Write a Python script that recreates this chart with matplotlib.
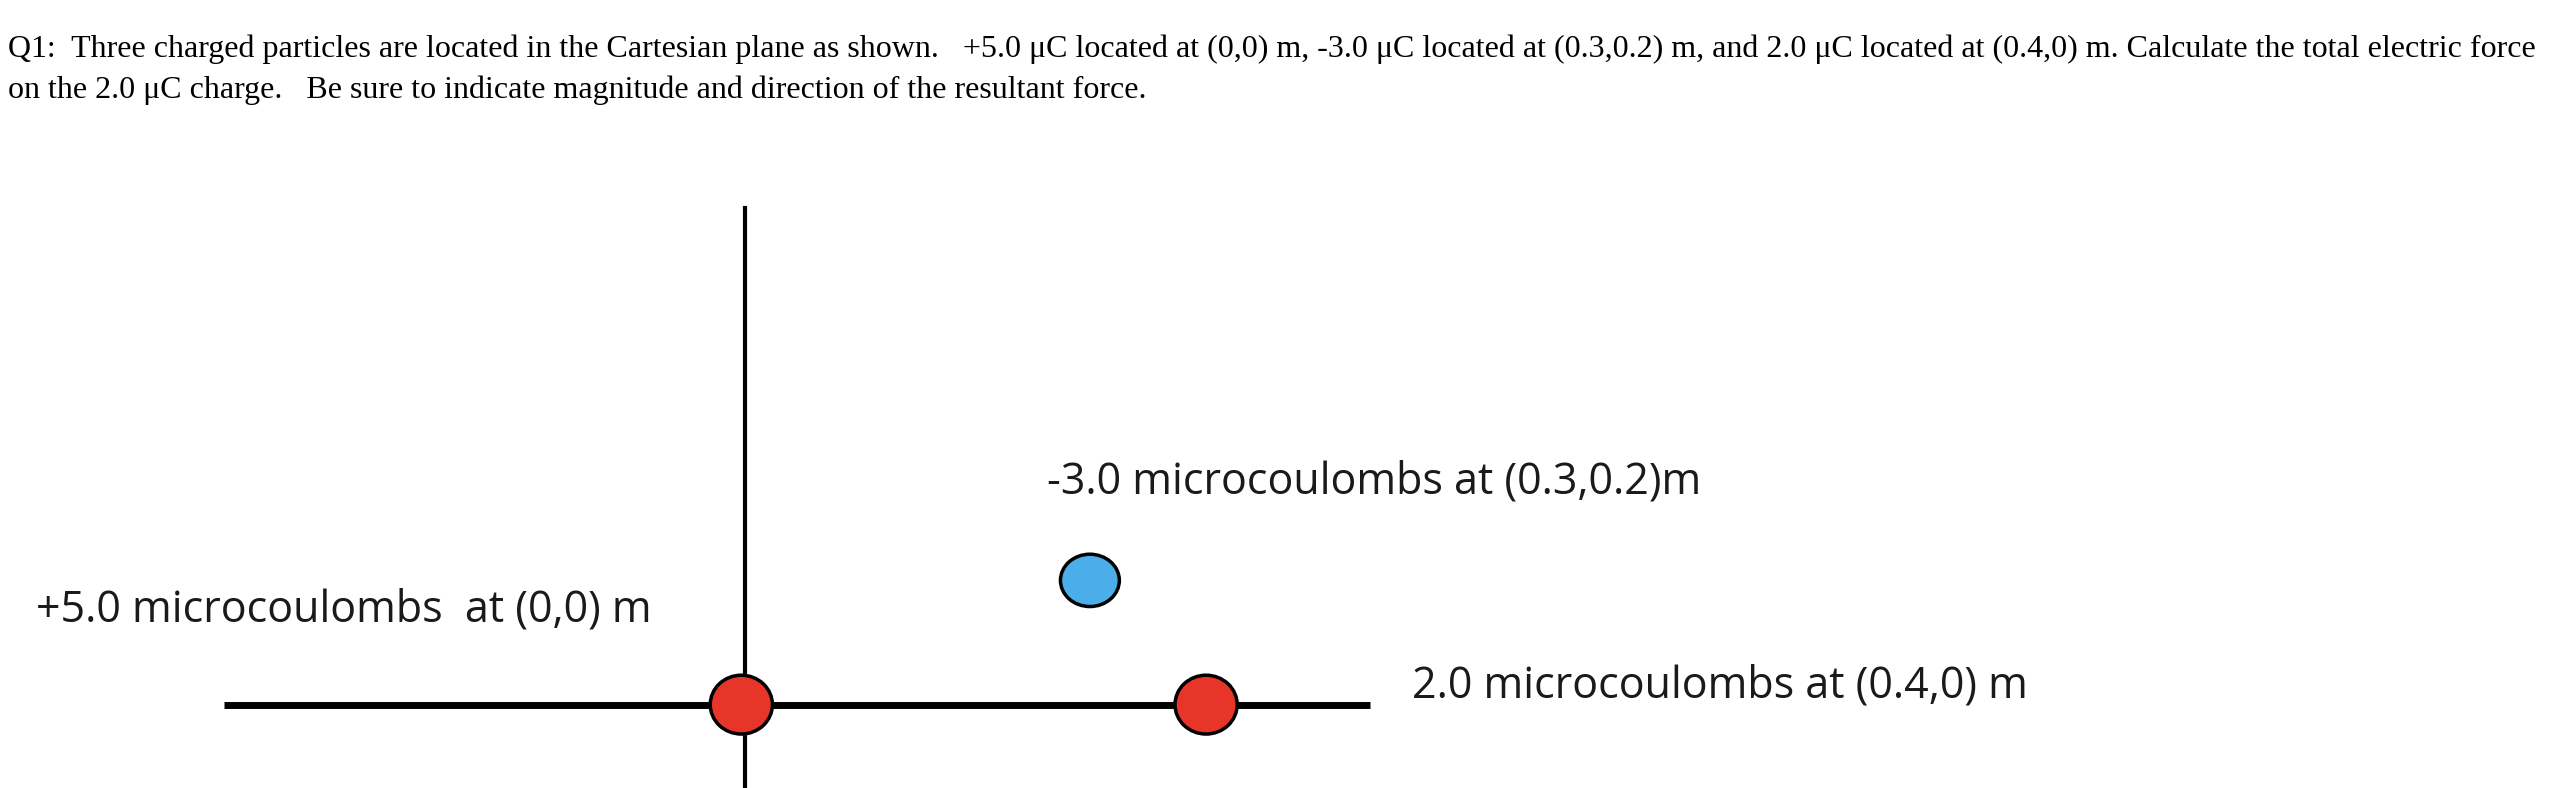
import matplotlib
matplotlib.use("Agg")
import matplotlib.pyplot as plt
from matplotlib.patches import Ellipse

W, H = 1568.0, 482.0  # layout reference frame
charges_uC = [5.0, -3.0, 2.0]
pos_x = [0.0, 0.3, 0.4]
pos_y = [0.0, 0.2, 0.0]
colors = ["#E8352A", "#4BAEEA", "#E8352A"]
labels = ["+5.0 microcoulombs  at (0,0) m", "-3.0 microcoulombs at (0.3,0.2)m", "2.0 microcoulombs at (0.4,0) m"]
label_px = [(22, 373), (640, 295), (863, 420)]
title1 = "Q1:  Three charged particles are located in the Cartesian plane as shown.   +5.0 \u03bcC located at (0,0) m, -3.0 \u03bcC located at (0.3,0.2) m, and 2.0 \u03bcC located at (0.4,0) m. Calculate the total electric force"
title2 = "on the 2.0 \u03bcC charge.   Be sure to indicate magnitude and direction of the resultant force."

fig = plt.figure(figsize=(25.66, 7.88), dpi=100)
ax = fig.add_axes([0, 0, 1, 1])
sx, sy = 710.0, 380.0
ox, oy = 453.0, 431.0
ax.set_xlim(-ox / sx, (W - ox) / sx)
ax.set_ylim(-(H - oy) / sy, oy / sy)
ax.axis("off")

ax.plot([(137 - ox) / sx, (837 - ox) / sx], [0, 0], color="black", lw=5, solid_capstyle="butt", zorder=1)
ax.plot([(455 - ox) / sx, (455 - ox) / sx], [-(H - oy) / sy, (oy - 127) / sy], color="black", lw=3, zorder=1)

for q, x, y, c in zip(charges_uC, pos_x, pos_y, colors):
    if q < 0:
        w, h = 36 / sx, 32 / sy
    else:
        w, h = 38 / sx, 36 / sy
    ax.add_patch(Ellipse((x, y), w, h, facecolor=c, edgecolor="black", lw=2.5, zorder=3))

for t, (px, py) in zip(labels, label_px):
    fig.text(px / W, 1 - py / H, t, fontsize=31, family="Open Sans", va="center", ha="left", color="#1a1a1a")

fig.text(5 / W, 1 - 30 / H, title1, fontsize=23, family="Liberation Serif", va="center", ha="left")
fig.text(5 / W, 1 - 55 / H, title2, fontsize=23, family="Liberation Serif", va="center", ha="left")

fig.savefig("out.png", dpi=100)
